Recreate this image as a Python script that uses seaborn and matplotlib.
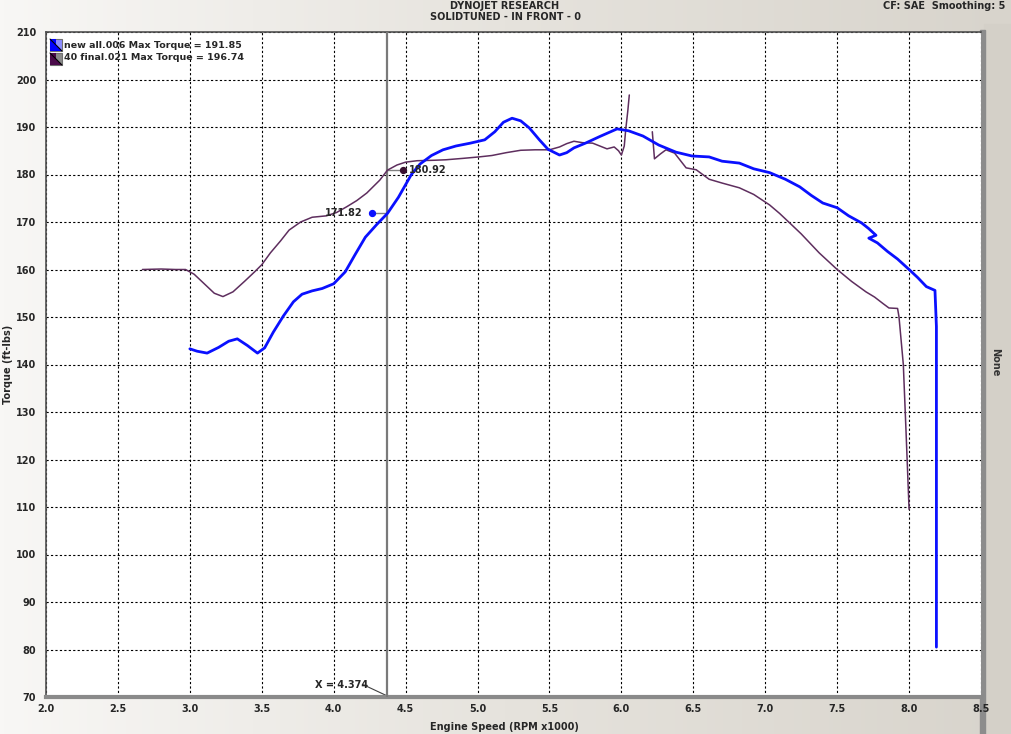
import numpy as np
import pandas as pd
import matplotlib
matplotlib.use("Agg")
import matplotlib.pyplot as plt
import seaborn as sns
from matplotlib.patches import Rectangle, Polygon
from matplotlib.colors import LinearSegmentedColormap
from matplotlib.ticker import MultipleLocator, FormatStrFormatter

# ---------------- data ----------------
run_names = ["new all.006", "40 final.021"]
max_torque = [191.85, 196.74]

rpm_new = [3.00, 3.05, 3.12, 3.20, 3.27, 3.33, 3.40, 3.47, 3.52, 3.58, 3.65, 3.72, 3.78,
           3.85, 3.92, 4.00, 4.08, 4.15, 4.22, 4.30, 4.374, 4.45, 4.54, 4.60, 4.68, 4.76,
           4.85, 4.95, 5.05, 5.12, 5.18, 5.24, 5.30, 5.36, 5.43, 5.49, 5.57, 5.62, 5.67,
           5.75, 5.85, 5.97, 6.05, 6.15, 6.26, 6.38, 6.49, 6.61, 6.70, 6.82, 6.92, 7.03,
           7.14, 7.24, 7.32, 7.40, 7.50, 7.58, 7.67, 7.72, 7.77, 7.72, 7.78, 7.85, 7.92,
           8.00, 8.06, 8.12, 8.15, 8.18, 8.19, 8.19, 8.19, 8.19]
tq_new = [143.3, 142.8, 142.4, 143.6, 144.9, 145.4, 144.0, 142.4, 143.5, 146.8, 150.2, 153.2, 154.8,
          155.5, 156.0, 157.0, 159.5, 163.2, 166.8, 169.5, 171.82, 175.2, 180.0, 182.2, 184.0, 185.2,
          186.0, 186.6, 187.3, 189.0, 191.0, 191.85, 191.3, 189.8, 187.3, 185.3, 184.1, 184.6, 185.6,
          186.6, 188.0, 189.6, 189.2, 188.1, 186.2, 184.7, 183.9, 183.7, 182.8, 182.4, 181.2, 180.4,
          179.0, 177.4, 175.6, 174.0, 173.0, 171.3, 169.8, 168.6, 167.2, 166.6, 165.6, 163.8, 162.2,
          160.0, 158.3, 156.4, 156.0, 155.6, 148.0, 130.0, 100.0, 80.5]

rpm_final_a = [2.67, 2.80, 2.90, 2.97, 3.03, 3.10, 3.17, 3.23, 3.30, 3.38, 3.45, 3.50, 3.56,
               3.63, 3.69, 3.77, 3.85, 3.95, 4.02, 4.09, 4.16, 4.23, 4.32, 4.374, 4.44, 4.50,
               4.58, 4.70, 4.78, 4.90, 5.01, 5.10, 5.20, 5.30, 5.40, 5.50, 5.57, 5.62, 5.67,
               5.73, 5.80, 5.85, 5.90, 5.95, 5.98, 6.00, 6.02, 6.03, 6.045, 6.055]
tq_final_a = [160.0, 160.1, 160.0, 160.0, 159.0, 157.0, 155.0, 154.3, 155.3, 157.5, 159.5, 161.0, 163.5,
              166.0, 168.3, 170.0, 171.0, 171.3, 172.0, 173.2, 174.5, 176.1, 178.8, 180.92, 182.0, 182.6,
              182.9, 183.0, 183.1, 183.4, 183.7, 184.0, 184.6, 185.1, 185.2, 185.2, 185.8, 186.5, 187.0,
              186.7, 186.6, 186.0, 185.4, 185.8, 185.0, 184.1, 186.0, 189.4, 193.5, 196.74]
rpm_final_b = [6.215, 6.23, 6.27, 6.31, 6.37, 6.45, 6.52, 6.61, 6.70, 6.82, 6.92, 7.03, 7.10,
               7.17, 7.25, 7.375, 7.50, 7.60, 7.70, 7.76, 7.82, 7.86, 7.92, 7.93, 7.96, 7.98, 8.00]
tq_final_b = [189.0, 183.3, 184.3, 185.2, 184.5, 181.4, 181.0, 179.0, 178.2, 177.2, 175.8, 173.6, 171.8,
              169.8, 167.5, 163.5, 160.0, 157.5, 155.3, 154.2, 152.8, 151.9, 151.8, 150.0, 140.0, 125.0, 109.5]

cursor_rpm = 4.374
cursor_vals = [171.82, 180.92]

x_ticks = np.arange(2.0, 8.51, 0.5)
y_ticks = np.arange(70, 211, 10)

# ---------------- style ----------------
sns.set_style("white")
plt.rcParams["font.family"] = ["DejaVu Sans"]
plt.rcParams["font.weight"] = "bold"

W, H = 1011, 734
fig = plt.figure(figsize=(W / 100, H / 100), dpi=100)

# background gradient
bg = fig.add_axes([0, 0, 1, 1], zorder=-10)
grad = np.linspace(0, 1, 256).reshape(1, -1)
bg.imshow(grad, cmap=LinearSegmentedColormap.from_list("g", ["#f8f7f5", "#e6e3dd", "#d8d4cc"]),
          aspect="auto", extent=[0, 1, 0, 1])
bg.set_xlim(0, 1); bg.set_ylim(0, 1)
bg.axis("off")
bg.add_patch(Rectangle((984 / W, 0), 27 / W, 1 - 24 / H, color="#d4d0c8", zorder=1))
bg.add_patch(Rectangle((980 / W, 0), 5 / W, 1 - 30 / H, color="#8c8c8c", zorder=2))

ax = fig.add_axes([46 / W, 1 - 697 / H, (981 - 46) / W, 665 / H])
ax.set_facecolor("white")

df_new = pd.DataFrame({"rpm": rpm_new, "torque": tq_new})
df_fin = pd.concat([
    pd.DataFrame({"rpm": rpm_final_a, "torque": tq_final_a, "seg": 0}),
    pd.DataFrame({"rpm": rpm_final_b, "torque": tq_final_b, "seg": 1}),
], ignore_index=True)

blue = "#0a10ff"
purple = "#5e2e5e"

sns.lineplot(data=df_fin, x="rpm", y="torque", units="seg", estimator=None, sort=False,
             color=purple, lw=1.1, ax=ax, legend=False, zorder=4)
sns.lineplot(data=df_new, x="rpm", y="torque", estimator=None, sort=False,
             color=blue, lw=2.0, ax=ax, legend=False, zorder=5)

ax.set_xlim(2.0, 8.5)
ax.set_ylim(70, 210)
ax.set_xticks(x_ticks)
ax.set_yticks(y_ticks)
ax.xaxis.set_major_formatter(FormatStrFormatter("%.1f"))
ax.xaxis.set_minor_locator(MultipleLocator(0.1))
ax.yaxis.set_minor_locator(MultipleLocator(5))
ax.grid(True, which="major", color="black", linestyle=(0, (2, 2)), lw=0.8)
ax.set_axisbelow(True)

ax.tick_params(axis="x", which="major", labelsize=7, length=4, direction="inout", pad=3, color="black")
ax.tick_params(axis="x", which="minor", length=3, direction="inout", color="black")
ax.tick_params(axis="y", which="major", labelsize=7, length=4, direction="out", pad=3, color="#404040")
ax.tick_params(axis="y", which="minor", length=3, direction="out", color="#404040")

for side in ["top", "left"]:
    ax.spines[side].set_color("#505050")
    ax.spines[side].set_linewidth(1.2)
ax.spines["bottom"].set_color("#8a8a8a")
ax.spines["bottom"].set_linewidth(3)
ax.spines["right"].set_visible(False)

ax.set_xlabel("Engine Speed (RPM x1000)", fontsize=7, fontweight="bold")
ax.set_ylabel("Torque (ft-lbs)", fontsize=7, fontweight="bold")
ax.xaxis.set_label_coords(0.49, -0.037)
ax.yaxis.set_label_coords(-0.035, 0.50)

# cursor
ax.axvline(cursor_rpm, color="#7a7a7a", lw=1.6, zorder=3)
dx = 0.11
ax.plot([cursor_rpm - dx, cursor_rpm], [cursor_vals[0]] * 2, color="#808080", lw=1, zorder=3)
ax.scatter([cursor_rpm - dx], [cursor_vals[0]], color=blue, s=18, zorder=6)
ax.text(cursor_rpm - dx - 0.06, cursor_vals[0], f"{cursor_vals[0]:.2f}", ha="right", va="center",
        fontsize=7, fontweight="bold", zorder=6)
ax.plot([cursor_rpm, cursor_rpm + dx], [cursor_vals[1]] * 2, color="#808080", lw=1, zorder=3)
ax.scatter([cursor_rpm + dx], [cursor_vals[1]], color="#3a1030", s=18, zorder=6)
ax.text(cursor_rpm + dx + 0.04, cursor_vals[1], f"{cursor_vals[1]:.2f}", ha="left", va="center",
        fontsize=7, fontweight="bold", zorder=6)
ax.text(3.87, 72.6, f"X = {cursor_rpm:.3f}", ha="left", va="center", fontsize=7, fontweight="bold")
ax.plot([4.205, cursor_rpm], [72.6, 70.2], color="#404040", lw=0.8)

# legend swatches + text
def swatch(y0, dark, light):
    x0, w, h = 0.0043, 0.0128, 0.018
    ax.add_patch(Rectangle((x0, y0), w, h, transform=ax.transAxes, facecolor=light,
                           edgecolor="#707070", lw=0.8, zorder=7))
    ax.add_patch(Polygon([(x0, y0 + h), (x0, y0), (x0 + w, y0)], closed=True,
                         transform=ax.transAxes, facecolor=dark, edgecolor="none", zorder=7))
    ax.add_patch(Polygon([(x0, y0 + h), (x0 + w * 0.5, y0 + h), (x0 + w * 0.5, y0 + h * 0.5)],
                         closed=True, transform=ax.transAxes, facecolor=dark, edgecolor="none", zorder=7))
    ax.plot([x0, x0 + w], [y0 + h, y0], transform=ax.transAxes, color="black", lw=0.8, zorder=8)

swatch(0.9714, "#0000ff", "#8c8cff")
swatch(0.9504, "#4a0a4a", "#8a8a8a")
ax.text(0.0193, 0.980, f"{run_names[0]} Max Torque = {max_torque[0]:.2f}", transform=ax.transAxes,
        ha="left", va="center", fontsize=6.8, fontweight="bold", zorder=8)
ax.text(0.0193, 0.961, f"{run_names[1]} Max Torque = {max_torque[1]:.2f}", transform=ax.transAxes,
        ha="left", va="center", fontsize=6.8, fontweight="bold", zorder=8)

# header texts
fig.text(505 / W, 1 - 6 / H, "DYNOJET RESEARCH", ha="center", va="center", fontsize=7, fontweight="bold")
fig.text(505 / W, 1 - 17 / H, "SOLIDTUNED - IN FRONT - 0", ha="center", va="center", fontsize=7, fontweight="bold")
fig.text(1005 / W, 1 - 6 / H, "CF: SAE  Smoothing: 5", ha="right", va="center", fontsize=7, fontweight="bold")
fig.text(995 / W, 1 - 362 / H, "None", ha="center", va="center", rotation=-90, fontsize=7,
         fontweight="bold", color="#333333")

fig.savefig("out.png", dpi=100)
